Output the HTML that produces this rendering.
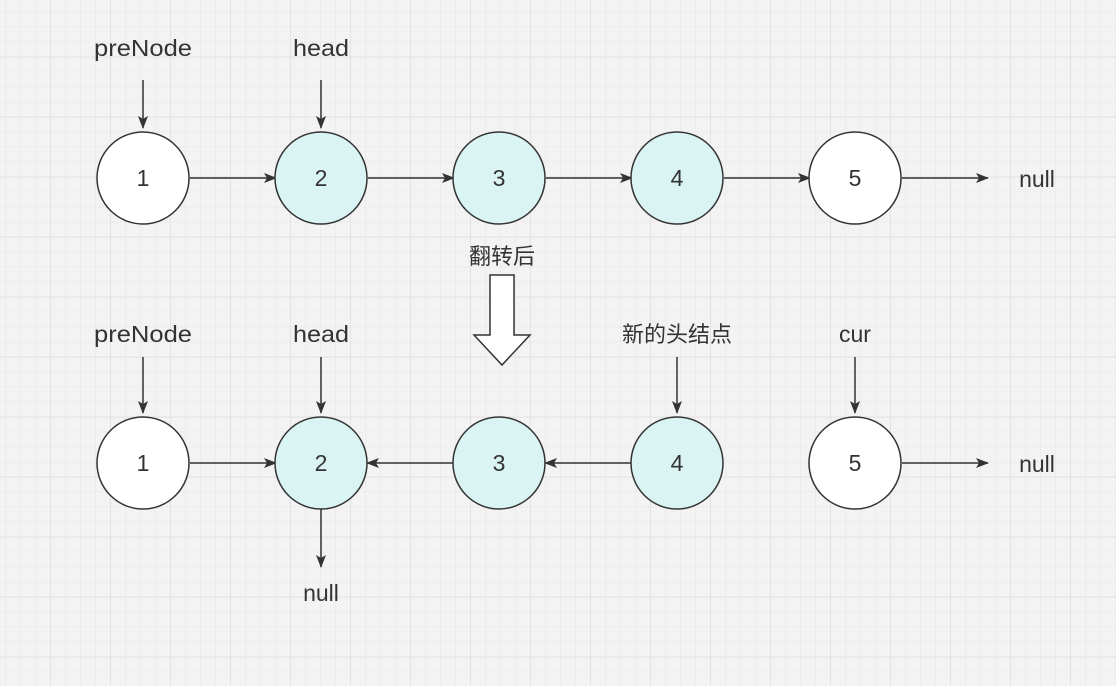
<!DOCTYPE html>
<html><head><meta charset="utf-8"><style>
html,body{margin:0;padding:0;}
body{width:1116px;height:686px;overflow:hidden;background:#f3f3f3;}
svg{display:block;}
text{font-family:"Liberation Sans","Noto Sans CJK SC",sans-serif;fill:#333;}
</style></head><body>
<svg width="1116" height="686" xmlns="http://www.w3.org/2000/svg">
<defs>
<pattern id="mn" width="15" height="15" patternUnits="userSpaceOnUse" x="5" y="11.7">
<path d="M0 0H15M0 0V15" stroke="#e6e6e6" stroke-width="1" fill="none"/>
</pattern>
<pattern id="mj" width="60" height="60" patternUnits="userSpaceOnUse" x="50" y="56.7">
<path d="M0 0H60M0 0V60" stroke="#dedede" stroke-width="1.5" fill="none"/>
</pattern>
<marker id="ah" markerWidth="13" markerHeight="10" refX="12" refY="5" orient="auto" markerUnits="userSpaceOnUse">
<path d="M0 0L13 5L0 10L3 5Z" fill="#333"/>
</marker>
</defs>
<rect width="1116" height="686" fill="#f3f3f3"/>
<rect width="1116" height="686" fill="url(#mn)"/>
<rect width="1116" height="686" fill="url(#mj)"/>
<g stroke="#333" stroke-width="1.5" fill="none" marker-end="url(#ah)">
<line x1="143" y1="80" x2="143" y2="128"/>
<line x1="321" y1="80" x2="321" y2="128"/>
<line x1="190" y1="178" x2="276" y2="178"/>
<line x1="368" y1="178" x2="454" y2="178"/>
<line x1="546" y1="178" x2="632" y2="178"/>
<line x1="724" y1="178" x2="810" y2="178"/>
<line x1="902" y1="178" x2="988" y2="178"/>
<line x1="143" y1="357" x2="143" y2="413"/>
<line x1="321" y1="357" x2="321" y2="413"/>
<line x1="677" y1="357" x2="677" y2="413"/>
<line x1="855" y1="357" x2="855" y2="413"/>
<line x1="190" y1="463" x2="276" y2="463"/>
<line x1="454" y1="463" x2="367" y2="463"/>
<line x1="631" y1="463" x2="545" y2="463"/>
<line x1="902" y1="463" x2="988" y2="463"/>
<line x1="321" y1="509" x2="321" y2="567"/>
</g>
<g stroke="#333" stroke-width="1.5">
<circle cx="143" cy="178" r="46" fill="#fff"/>
<circle cx="321" cy="178" r="46" fill="#daf3f3"/>
<circle cx="499" cy="178" r="46" fill="#daf3f3"/>
<circle cx="677" cy="178" r="46" fill="#daf3f3"/>
<circle cx="855" cy="178" r="46" fill="#fff"/>
<circle cx="143" cy="463" r="46" fill="#fff"/>
<circle cx="321" cy="463" r="46" fill="#daf3f3"/>
<circle cx="499" cy="463" r="46" fill="#daf3f3"/>
<circle cx="677" cy="463" r="46" fill="#daf3f3"/>
<circle cx="855" cy="463" r="46" fill="#fff"/>
</g>
<path d="M490 275H514V335H530L502 365L474 335H490Z" fill="#fff" stroke="#333" stroke-width="1.5"/>
<g font-size="23" text-anchor="middle">
<text x="143" y="186">1</text><text x="321" y="186">2</text><text x="499" y="186">3</text><text x="677" y="186">4</text><text x="855" y="186">5</text>
<text x="143" y="471">1</text><text x="321" y="471">2</text><text x="499" y="471">3</text><text x="677" y="471">4</text><text x="855" y="471">5</text>
<text x="143" y="56" textLength="98" lengthAdjust="spacingAndGlyphs">preNode</text><text x="321" y="56" textLength="56" lengthAdjust="spacingAndGlyphs">head</text>
<text x="143" y="342" textLength="98" lengthAdjust="spacingAndGlyphs">preNode</text><text x="321" y="342" textLength="56" lengthAdjust="spacingAndGlyphs">head</text>
<text x="677" y="342" font-size="22">新的头结点</text><text x="855" y="342">cur</text>
<text x="502" y="264" font-size="22">翻转后</text>
<text x="1037" y="187">null</text><text x="1037" y="472">null</text>
<text x="321" y="601">null</text>
</g>
</svg>
</body></html>
